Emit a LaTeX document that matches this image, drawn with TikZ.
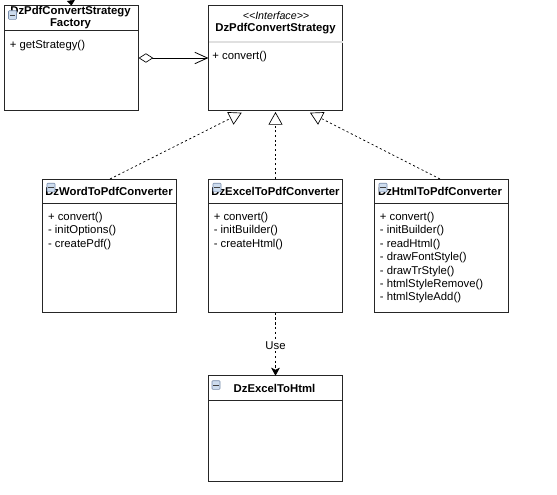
\documentclass[tikz,border=0pt]{standalone}
\usepackage{fontspec}
\setmainfont{Liberation Sans}
\usetikzlibrary{arrows.meta}
\definecolor{iconfill}{RGB}{205,220,238}
\definecolor{icondraw}{RGB}{120,140,170}
\tikzset{
  umlbox/.style={draw=black!85,line width=0.75pt,fill=white,inner sep=0pt,outer sep=0pt,anchor=north west},
  titletext/.style={font=\fontsize{8.5}{10}\selectfont\bfseries,inner sep=0pt,align=center},
  stereotext/.style={font=\fontsize{8}{10}\selectfont\itshape,inner sep=0pt},
  methods/.style={font=\fontsize{8.5}{10.05}\selectfont,inner sep=0pt,align=left,anchor=north west},
  headline/.style={draw=black!85,line width=0.7pt},
  softline/.style={draw=black!12,line width=1.4pt},
  iconbox/.style={draw=icondraw,fill=iconfill,line width=0.4pt,inner sep=0pt,outer sep=0pt,minimum width=6pt,minimum height=6.4pt,rounded corners=0.6pt},
  iconbar/.style={draw=black!75,line width=0.5pt},
  realize/.style={dash pattern=on 1.6pt off 1.9pt,line width=0.55pt,black,-{Triangle[open,fill=white,length=9.5pt,width=10.5pt,line width=0.5pt]}},
  aggregate/.style={line width=0.7pt,black,{Diamond[open,fill=white,length=11pt,width=7pt,line width=0.5pt]}-{Straight Barb[length=9.5pt,width=8.6pt,line width=0.6pt]}},
  usedep/.style={dash pattern=on 1.8pt off 1.8pt,line width=0.6pt,black,-{Stealth[length=6pt,width=6.6pt,inset=1.6pt]}},
  topdep/.style={line width=0.6pt,black,-{Triangle[length=3.8pt,width=6pt]}},
}
\newcommand{\minusicon}[3]{%
  \node[iconbox] (#1) at (#2,#3) {};
  \draw[iconbar] ([xshift=1.1pt]#1.west) -- ([xshift=-1.1pt]#1.east);
}
\begin{document}
\begin{tikzpicture}[x=0.75pt,y=-0.75pt]
\useasboundingbox (0,0) rectangle (557,494);
\fill[white] (0,0) rectangle (557,494);

% boxes
\node[umlbox,minimum width=100.5pt,minimum height=79pt] (factory) at (4.5,5.5) {};
\node[umlbox,minimum width=100.5pt,minimum height=79pt] (strategy) at (208.5,5.5) {};
\node[umlbox,minimum width=100.5pt,minimum height=100.1pt] (word) at (42.9,179.1) {};
\node[umlbox,minimum width=100.5pt,minimum height=100.1pt] (excel) at (208.5,179.1) {};
\node[umlbox,minimum width=100.5pt,minimum height=100.1pt] (html) at (374.1,179.1) {};
\node[umlbox,minimum width=100.5pt,minimum height=79pt] (tohtml) at (208.5,375.7) {};

% compartment lines
\draw[headline] (4.5,30.7) -- (138.5,30.7);
\draw[softline] (208.8,41.7) -- (342.5,41.7);
\draw[headline] (42.9,203.3) -- (176.9,203.3);
\draw[headline] (208.5,203.3) -- (342.5,203.3);
\draw[headline] (374.1,203.3) -- (508.1,203.3);
\draw[headline] (208.5,400) -- (342.5,400);

% titles
\node[titletext] (factorytitle) at (70.5,17.7) {DzPdfConvertStrategy\\[-0.5pt]Factory};
\node[stereotext] (stereo) at (276,15.7) {<{}<Interface>{}>};
\node[titletext] (strategytitle) at (275.5,29) {DzPdfConvertStrategy};
\node[titletext] (wordtitle) at (109,191.7) {DzWordToPdfConverter};
\node[titletext] (exceltitle) at (275.5,191.7) {DzExcelToPdfConverter};
\node[titletext] (htmltitle) at (440,191.7) {DzHtmlToPdfConverter};
\node[titletext] (tohtmltitle) at (274.5,388) {DzExcelToHtml};

% members
\node[methods] (factorym) at (9.5,40) {+ getStrategy()};
\node[methods] (strategym) at (212.2,51.3) {+ convert()};
\node[methods] (wordm) at (47.8,212) {+ convert()\\- initOptions()\\- createPdf()};
\node[methods] (excelm) at (213.5,212) {+ convert()\\- initBuilder()\\- createHtml()};
\node[methods] (htmlm) at (379.6,212) {+ convert()\\- initBuilder()\\- readHtml()\\- drawFontStyle()\\- drawTrStyle()\\- htmlStyleRemove()\\- htmlStyleAdd()};

% collapse icons
\minusicon{iconfactory}{12.5}{15}
\minusicon{iconword}{51}{187.5}
\minusicon{iconexcel}{217}{187.5}
\minusicon{iconhtml}{383}{187.5}
\minusicon{icontohtml}{216}{385}

% free connector ends
\coordinate (topin) at (70.8,0);
\coordinate (realleft) at (241.7,112.7);
\coordinate (realmid) at (275.5,112);
\coordinate (realright) at (310,112.7);
\coordinate (wordin) at (110,179);
\coordinate (htmlin) at (440,179);
\coordinate (aggfrom) at (138.6,58);
\coordinate (aggto) at (208.4,58);

% connectors
\draw[topdep] (topin) -- (factory.north);
\draw[aggregate] (aggfrom) -- (aggto);
\draw[realize] (wordin) -- (realleft);
\draw[realize] (excel.north) -- (realmid);
\draw[realize] (htmlin) -- (realright);
\draw[usedep] (excel.south) -- node[midway,fill=white,inner sep=1.5pt,yshift=-1pt,font=\fontsize{8.5}{10}\selectfont] (uselabel) {Use} (tohtml.north);
\end{tikzpicture}
\end{document}
